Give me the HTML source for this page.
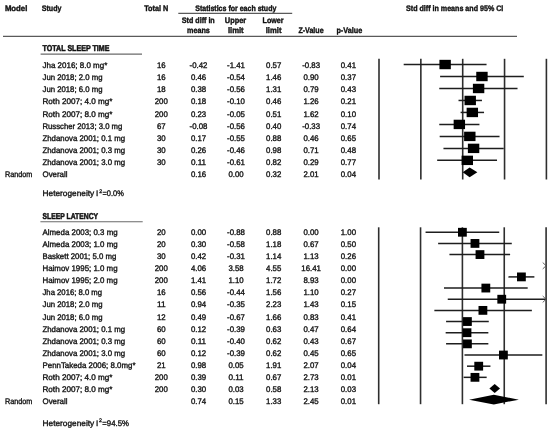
<!DOCTYPE html>
<html><head><meta charset="utf-8"><title>Forest plot</title>
<style>
html,body{margin:0;padding:0;background:#fff;}
body{width:550px;height:430px;overflow:hidden;}
svg{display:block;}
text{text-rendering:geometricPrecision;font-family:"Liberation Sans",Arial,sans-serif;fill:#111;stroke:#111;stroke-width:0.35px;}
text[font-weight=bold]{stroke-width:0.38px;}
</style></head><body>
<svg width="550" height="430" viewBox="0 0 550 430">
<rect width="550" height="430" fill="#fff"/>
<text x="4.90" y="10.50" text-anchor="start" font-size="8.00" font-weight="bold" textLength="22.39" lengthAdjust="spacingAndGlyphs">Model</text>
<text x="41.80" y="10.50" text-anchor="start" font-size="8.00" font-weight="bold" textLength="19.64" lengthAdjust="spacingAndGlyphs">Study</text>
<text x="144.20" y="10.50" text-anchor="start" font-size="8.00" font-weight="bold" textLength="24.13" lengthAdjust="spacingAndGlyphs">Total N</text>
<text x="235.80" y="10.50" text-anchor="middle" font-size="8.00" font-weight="bold" textLength="81.14" lengthAdjust="spacingAndGlyphs">Statistics for each study</text>
<text x="454.70" y="10.50" text-anchor="middle" font-size="8.00" font-weight="bold" textLength="97.26" lengthAdjust="spacingAndGlyphs">Std diff in means and 95% CI</text>
<text x="198.30" y="22.90" text-anchor="middle" font-size="8.00" font-weight="bold" textLength="32.88" lengthAdjust="spacingAndGlyphs">Std diff in</text>
<text x="235.50" y="22.90" text-anchor="middle" font-size="8.00" font-weight="bold" textLength="21.46" lengthAdjust="spacingAndGlyphs">Upper</text>
<text x="273.10" y="22.90" text-anchor="middle" font-size="8.00" font-weight="bold" textLength="21.07" lengthAdjust="spacingAndGlyphs">Lower</text>
<text x="198.40" y="33.30" text-anchor="middle" font-size="8.00" font-weight="bold" textLength="22.79" lengthAdjust="spacingAndGlyphs">means</text>
<text x="235.80" y="33.30" text-anchor="middle" font-size="8.00" font-weight="bold" textLength="15.75" lengthAdjust="spacingAndGlyphs">limit</text>
<text x="273.60" y="33.30" text-anchor="middle" font-size="8.00" font-weight="bold" textLength="15.75" lengthAdjust="spacingAndGlyphs">limit</text>
<text x="311.00" y="33.30" text-anchor="middle" font-size="8.00" font-weight="bold" textLength="25.19" lengthAdjust="spacingAndGlyphs">Z-Value</text>
<text x="349.30" y="33.30" text-anchor="middle" font-size="8.00" font-weight="bold" textLength="25.82" lengthAdjust="spacingAndGlyphs">p-Value</text>
<text x="42.60" y="50.80" text-anchor="start" font-size="8.53" font-weight="bold" style="stroke-width:0.5px" textLength="66.79" lengthAdjust="spacingAndGlyphs">TOTAL SLEEP TIME</text>
<text x="42.60" y="219.10" text-anchor="start" font-size="8.53" font-weight="bold" style="stroke-width:0.5px" textLength="55.50" lengthAdjust="spacingAndGlyphs">SLEEP LATENCY</text>
<text x="42.50" y="68.30" text-anchor="start" font-size="8.10" textLength="64.81" lengthAdjust="spacingAndGlyphs">Jha 2016; 8.0 mg*</text>
<text x="161.30" y="68.30" text-anchor="middle" font-size="8.10" textLength="8.72" lengthAdjust="spacingAndGlyphs">16</text>
<text x="198.50" y="68.30" text-anchor="middle" font-size="8.10" textLength="17.88" lengthAdjust="spacingAndGlyphs">-0.42</text>
<text x="236.00" y="68.30" text-anchor="middle" font-size="8.10" textLength="17.88" lengthAdjust="spacingAndGlyphs">-1.41</text>
<text x="273.70" y="68.30" text-anchor="middle" font-size="8.10" textLength="15.25" lengthAdjust="spacingAndGlyphs">0.57</text>
<text x="311.10" y="68.30" text-anchor="middle" font-size="8.10" textLength="17.88" lengthAdjust="spacingAndGlyphs">-0.83</text>
<text x="348.40" y="68.30" text-anchor="middle" font-size="8.10" textLength="15.25" lengthAdjust="spacingAndGlyphs">0.41</text>
<text x="42.50" y="80.35" text-anchor="start" font-size="8.10" textLength="59.97" lengthAdjust="spacingAndGlyphs">Jun 2018; 2.0 mg</text>
<text x="161.30" y="80.35" text-anchor="middle" font-size="8.10" textLength="8.72" lengthAdjust="spacingAndGlyphs">16</text>
<text x="198.50" y="80.35" text-anchor="middle" font-size="8.10" textLength="15.25" lengthAdjust="spacingAndGlyphs">0.46</text>
<text x="236.00" y="80.35" text-anchor="middle" font-size="8.10" textLength="17.88" lengthAdjust="spacingAndGlyphs">-0.54</text>
<text x="273.70" y="80.35" text-anchor="middle" font-size="8.10" textLength="15.25" lengthAdjust="spacingAndGlyphs">1.46</text>
<text x="311.10" y="80.35" text-anchor="middle" font-size="8.10" textLength="15.25" lengthAdjust="spacingAndGlyphs">0.90</text>
<text x="348.40" y="80.35" text-anchor="middle" font-size="8.10" textLength="15.25" lengthAdjust="spacingAndGlyphs">0.37</text>
<text x="42.50" y="92.40" text-anchor="start" font-size="8.10" textLength="59.97" lengthAdjust="spacingAndGlyphs">Jun 2018; 6.0 mg</text>
<text x="161.30" y="92.40" text-anchor="middle" font-size="8.10" textLength="8.72" lengthAdjust="spacingAndGlyphs">18</text>
<text x="198.50" y="92.40" text-anchor="middle" font-size="8.10" textLength="15.25" lengthAdjust="spacingAndGlyphs">0.38</text>
<text x="236.00" y="92.40" text-anchor="middle" font-size="8.10" textLength="17.88" lengthAdjust="spacingAndGlyphs">-0.56</text>
<text x="273.70" y="92.40" text-anchor="middle" font-size="8.10" textLength="15.25" lengthAdjust="spacingAndGlyphs">1.31</text>
<text x="311.10" y="92.40" text-anchor="middle" font-size="8.10" textLength="15.25" lengthAdjust="spacingAndGlyphs">0.79</text>
<text x="348.40" y="92.40" text-anchor="middle" font-size="8.10" textLength="15.25" lengthAdjust="spacingAndGlyphs">0.43</text>
<text x="42.50" y="104.45" text-anchor="start" font-size="8.10" textLength="69.93" lengthAdjust="spacingAndGlyphs">Roth 2007; 4.0 mg*</text>
<text x="161.30" y="104.45" text-anchor="middle" font-size="8.10" textLength="13.08" lengthAdjust="spacingAndGlyphs">200</text>
<text x="198.50" y="104.45" text-anchor="middle" font-size="8.10" textLength="15.25" lengthAdjust="spacingAndGlyphs">0.18</text>
<text x="236.00" y="104.45" text-anchor="middle" font-size="8.10" textLength="17.88" lengthAdjust="spacingAndGlyphs">-0.10</text>
<text x="273.70" y="104.45" text-anchor="middle" font-size="8.10" textLength="15.25" lengthAdjust="spacingAndGlyphs">0.46</text>
<text x="311.10" y="104.45" text-anchor="middle" font-size="8.10" textLength="15.25" lengthAdjust="spacingAndGlyphs">1.26</text>
<text x="348.40" y="104.45" text-anchor="middle" font-size="8.10" textLength="15.25" lengthAdjust="spacingAndGlyphs">0.21</text>
<text x="42.50" y="116.50" text-anchor="start" font-size="8.10" textLength="69.93" lengthAdjust="spacingAndGlyphs">Roth 2007; 8.0 mg*</text>
<text x="161.30" y="116.50" text-anchor="middle" font-size="8.10" textLength="13.08" lengthAdjust="spacingAndGlyphs">200</text>
<text x="198.50" y="116.50" text-anchor="middle" font-size="8.10" textLength="15.25" lengthAdjust="spacingAndGlyphs">0.23</text>
<text x="236.00" y="116.50" text-anchor="middle" font-size="8.10" textLength="17.88" lengthAdjust="spacingAndGlyphs">-0.05</text>
<text x="273.70" y="116.50" text-anchor="middle" font-size="8.10" textLength="15.25" lengthAdjust="spacingAndGlyphs">0.51</text>
<text x="311.10" y="116.50" text-anchor="middle" font-size="8.10" textLength="15.25" lengthAdjust="spacingAndGlyphs">1.62</text>
<text x="348.40" y="116.50" text-anchor="middle" font-size="8.10" textLength="15.25" lengthAdjust="spacingAndGlyphs">0.10</text>
<text x="42.50" y="128.55" text-anchor="start" font-size="8.10" textLength="79.81" lengthAdjust="spacingAndGlyphs">Russcher 2013; 3.0 mg</text>
<text x="161.30" y="128.55" text-anchor="middle" font-size="8.10" textLength="8.72" lengthAdjust="spacingAndGlyphs">67</text>
<text x="198.50" y="128.55" text-anchor="middle" font-size="8.10" textLength="17.88" lengthAdjust="spacingAndGlyphs">-0.08</text>
<text x="236.00" y="128.55" text-anchor="middle" font-size="8.10" textLength="17.88" lengthAdjust="spacingAndGlyphs">-0.56</text>
<text x="273.70" y="128.55" text-anchor="middle" font-size="8.10" textLength="15.25" lengthAdjust="spacingAndGlyphs">0.40</text>
<text x="311.10" y="128.55" text-anchor="middle" font-size="8.10" textLength="17.88" lengthAdjust="spacingAndGlyphs">-0.33</text>
<text x="348.40" y="128.55" text-anchor="middle" font-size="8.10" textLength="15.25" lengthAdjust="spacingAndGlyphs">0.74</text>
<text x="42.50" y="140.60" text-anchor="start" font-size="8.10" textLength="82.58" lengthAdjust="spacingAndGlyphs">Zhdanova 2001; 0.1 mg</text>
<text x="161.30" y="140.60" text-anchor="middle" font-size="8.10" textLength="8.72" lengthAdjust="spacingAndGlyphs">30</text>
<text x="198.50" y="140.60" text-anchor="middle" font-size="8.10" textLength="15.25" lengthAdjust="spacingAndGlyphs">0.17</text>
<text x="236.00" y="140.60" text-anchor="middle" font-size="8.10" textLength="17.88" lengthAdjust="spacingAndGlyphs">-0.55</text>
<text x="273.70" y="140.60" text-anchor="middle" font-size="8.10" textLength="15.25" lengthAdjust="spacingAndGlyphs">0.88</text>
<text x="311.10" y="140.60" text-anchor="middle" font-size="8.10" textLength="15.25" lengthAdjust="spacingAndGlyphs">0.46</text>
<text x="348.40" y="140.60" text-anchor="middle" font-size="8.10" textLength="15.25" lengthAdjust="spacingAndGlyphs">0.65</text>
<text x="42.50" y="152.65" text-anchor="start" font-size="8.10" textLength="82.58" lengthAdjust="spacingAndGlyphs">Zhdanova 2001; 0.3 mg</text>
<text x="161.30" y="152.65" text-anchor="middle" font-size="8.10" textLength="8.72" lengthAdjust="spacingAndGlyphs">30</text>
<text x="198.50" y="152.65" text-anchor="middle" font-size="8.10" textLength="15.25" lengthAdjust="spacingAndGlyphs">0.26</text>
<text x="236.00" y="152.65" text-anchor="middle" font-size="8.10" textLength="17.88" lengthAdjust="spacingAndGlyphs">-0.46</text>
<text x="273.70" y="152.65" text-anchor="middle" font-size="8.10" textLength="15.25" lengthAdjust="spacingAndGlyphs">0.98</text>
<text x="311.10" y="152.65" text-anchor="middle" font-size="8.10" textLength="15.25" lengthAdjust="spacingAndGlyphs">0.71</text>
<text x="348.40" y="152.65" text-anchor="middle" font-size="8.10" textLength="15.25" lengthAdjust="spacingAndGlyphs">0.48</text>
<text x="42.50" y="164.70" text-anchor="start" font-size="8.10" textLength="82.58" lengthAdjust="spacingAndGlyphs">Zhdanova 2001; 3.0 mg</text>
<text x="161.30" y="164.70" text-anchor="middle" font-size="8.10" textLength="8.72" lengthAdjust="spacingAndGlyphs">30</text>
<text x="198.50" y="164.70" text-anchor="middle" font-size="8.10" textLength="15.25" lengthAdjust="spacingAndGlyphs">0.11</text>
<text x="236.00" y="164.70" text-anchor="middle" font-size="8.10" textLength="17.88" lengthAdjust="spacingAndGlyphs">-0.61</text>
<text x="273.70" y="164.70" text-anchor="middle" font-size="8.10" textLength="15.25" lengthAdjust="spacingAndGlyphs">0.82</text>
<text x="311.10" y="164.70" text-anchor="middle" font-size="8.10" textLength="15.25" lengthAdjust="spacingAndGlyphs">0.29</text>
<text x="348.40" y="164.70" text-anchor="middle" font-size="8.10" textLength="15.25" lengthAdjust="spacingAndGlyphs">0.77</text>
<text x="4.90" y="176.75" text-anchor="start" font-size="8.10" textLength="27.40" lengthAdjust="spacingAndGlyphs">Random</text>
<text x="42.50" y="176.75" text-anchor="start" font-size="8.10" textLength="25.00" lengthAdjust="spacingAndGlyphs">Overall</text>
<text x="198.50" y="176.75" text-anchor="middle" font-size="8.10" textLength="15.25" lengthAdjust="spacingAndGlyphs">0.16</text>
<text x="236.00" y="176.75" text-anchor="middle" font-size="8.10" textLength="15.25" lengthAdjust="spacingAndGlyphs">0.00</text>
<text x="273.70" y="176.75" text-anchor="middle" font-size="8.10" textLength="15.25" lengthAdjust="spacingAndGlyphs">0.32</text>
<text x="311.10" y="176.75" text-anchor="middle" font-size="8.10" textLength="15.25" lengthAdjust="spacingAndGlyphs">2.01</text>
<text x="348.40" y="176.75" text-anchor="middle" font-size="8.10" textLength="15.25" lengthAdjust="spacingAndGlyphs">0.04</text>
<text x="42.50" y="234.85" text-anchor="start" font-size="8.10" textLength="75.14" lengthAdjust="spacingAndGlyphs">Almeda 2003; 0.3 mg</text>
<text x="161.30" y="234.85" text-anchor="middle" font-size="8.10" textLength="8.72" lengthAdjust="spacingAndGlyphs">20</text>
<text x="198.50" y="234.85" text-anchor="middle" font-size="8.10" textLength="15.25" lengthAdjust="spacingAndGlyphs">0.00</text>
<text x="236.00" y="234.85" text-anchor="middle" font-size="8.10" textLength="17.88" lengthAdjust="spacingAndGlyphs">-0.88</text>
<text x="273.70" y="234.85" text-anchor="middle" font-size="8.10" textLength="15.25" lengthAdjust="spacingAndGlyphs">0.88</text>
<text x="311.10" y="234.85" text-anchor="middle" font-size="8.10" textLength="15.25" lengthAdjust="spacingAndGlyphs">0.00</text>
<text x="348.40" y="234.85" text-anchor="middle" font-size="8.10" textLength="15.25" lengthAdjust="spacingAndGlyphs">1.00</text>
<text x="42.50" y="246.95" text-anchor="start" font-size="8.10" textLength="75.14" lengthAdjust="spacingAndGlyphs">Almeda 2003; 1.0 mg</text>
<text x="161.30" y="246.95" text-anchor="middle" font-size="8.10" textLength="8.72" lengthAdjust="spacingAndGlyphs">20</text>
<text x="198.50" y="246.95" text-anchor="middle" font-size="8.10" textLength="15.25" lengthAdjust="spacingAndGlyphs">0.30</text>
<text x="236.00" y="246.95" text-anchor="middle" font-size="8.10" textLength="17.88" lengthAdjust="spacingAndGlyphs">-0.58</text>
<text x="273.70" y="246.95" text-anchor="middle" font-size="8.10" textLength="15.25" lengthAdjust="spacingAndGlyphs">1.18</text>
<text x="311.10" y="246.95" text-anchor="middle" font-size="8.10" textLength="15.25" lengthAdjust="spacingAndGlyphs">0.67</text>
<text x="348.40" y="246.95" text-anchor="middle" font-size="8.10" textLength="15.25" lengthAdjust="spacingAndGlyphs">0.50</text>
<text x="42.50" y="259.05" text-anchor="start" font-size="8.10" textLength="73.86" lengthAdjust="spacingAndGlyphs">Baskett 2001; 5.0 mg</text>
<text x="161.30" y="259.05" text-anchor="middle" font-size="8.10" textLength="8.72" lengthAdjust="spacingAndGlyphs">30</text>
<text x="198.50" y="259.05" text-anchor="middle" font-size="8.10" textLength="15.25" lengthAdjust="spacingAndGlyphs">0.42</text>
<text x="236.00" y="259.05" text-anchor="middle" font-size="8.10" textLength="17.88" lengthAdjust="spacingAndGlyphs">-0.31</text>
<text x="273.70" y="259.05" text-anchor="middle" font-size="8.10" textLength="15.25" lengthAdjust="spacingAndGlyphs">1.14</text>
<text x="311.10" y="259.05" text-anchor="middle" font-size="8.10" textLength="15.25" lengthAdjust="spacingAndGlyphs">1.13</text>
<text x="348.40" y="259.05" text-anchor="middle" font-size="8.10" textLength="15.25" lengthAdjust="spacingAndGlyphs">0.26</text>
<text x="42.50" y="271.15" text-anchor="start" font-size="8.10" textLength="75.10" lengthAdjust="spacingAndGlyphs">Haimov 1995; 1.0 mg</text>
<text x="161.30" y="271.15" text-anchor="middle" font-size="8.10" textLength="13.08" lengthAdjust="spacingAndGlyphs">200</text>
<text x="198.50" y="271.15" text-anchor="middle" font-size="8.10" textLength="15.25" lengthAdjust="spacingAndGlyphs">4.06</text>
<text x="236.00" y="271.15" text-anchor="middle" font-size="8.10" textLength="15.25" lengthAdjust="spacingAndGlyphs">3.58</text>
<text x="273.70" y="271.15" text-anchor="middle" font-size="8.10" textLength="15.25" lengthAdjust="spacingAndGlyphs">4.55</text>
<text x="311.10" y="271.15" text-anchor="middle" font-size="8.10" textLength="19.61" lengthAdjust="spacingAndGlyphs">16.41</text>
<text x="348.40" y="271.15" text-anchor="middle" font-size="8.10" textLength="15.25" lengthAdjust="spacingAndGlyphs">0.00</text>
<text x="42.50" y="283.25" text-anchor="start" font-size="8.10" textLength="75.10" lengthAdjust="spacingAndGlyphs">Haimov 1995; 2.0 mg</text>
<text x="161.30" y="283.25" text-anchor="middle" font-size="8.10" textLength="13.08" lengthAdjust="spacingAndGlyphs">200</text>
<text x="198.50" y="283.25" text-anchor="middle" font-size="8.10" textLength="15.25" lengthAdjust="spacingAndGlyphs">1.41</text>
<text x="236.00" y="283.25" text-anchor="middle" font-size="8.10" textLength="15.25" lengthAdjust="spacingAndGlyphs">1.10</text>
<text x="273.70" y="283.25" text-anchor="middle" font-size="8.10" textLength="15.25" lengthAdjust="spacingAndGlyphs">1.72</text>
<text x="311.10" y="283.25" text-anchor="middle" font-size="8.10" textLength="15.25" lengthAdjust="spacingAndGlyphs">8.93</text>
<text x="348.40" y="283.25" text-anchor="middle" font-size="8.10" textLength="15.25" lengthAdjust="spacingAndGlyphs">0.00</text>
<text x="42.50" y="295.35" text-anchor="start" font-size="8.10" textLength="59.57" lengthAdjust="spacingAndGlyphs">Jha 2016; 8.0 mg</text>
<text x="161.30" y="295.35" text-anchor="middle" font-size="8.10" textLength="8.72" lengthAdjust="spacingAndGlyphs">16</text>
<text x="198.50" y="295.35" text-anchor="middle" font-size="8.10" textLength="15.25" lengthAdjust="spacingAndGlyphs">0.56</text>
<text x="236.00" y="295.35" text-anchor="middle" font-size="8.10" textLength="17.88" lengthAdjust="spacingAndGlyphs">-0.44</text>
<text x="273.70" y="295.35" text-anchor="middle" font-size="8.10" textLength="15.25" lengthAdjust="spacingAndGlyphs">1.56</text>
<text x="311.10" y="295.35" text-anchor="middle" font-size="8.10" textLength="15.25" lengthAdjust="spacingAndGlyphs">1.10</text>
<text x="348.40" y="295.35" text-anchor="middle" font-size="8.10" textLength="15.25" lengthAdjust="spacingAndGlyphs">0.27</text>
<text x="42.50" y="307.45" text-anchor="start" font-size="8.10" textLength="59.97" lengthAdjust="spacingAndGlyphs">Jun 2018; 2.0 mg</text>
<text x="161.30" y="307.45" text-anchor="middle" font-size="8.10" textLength="8.72" lengthAdjust="spacingAndGlyphs">11</text>
<text x="198.50" y="307.45" text-anchor="middle" font-size="8.10" textLength="15.25" lengthAdjust="spacingAndGlyphs">0.94</text>
<text x="236.00" y="307.45" text-anchor="middle" font-size="8.10" textLength="17.88" lengthAdjust="spacingAndGlyphs">-0.35</text>
<text x="273.70" y="307.45" text-anchor="middle" font-size="8.10" textLength="15.25" lengthAdjust="spacingAndGlyphs">2.23</text>
<text x="311.10" y="307.45" text-anchor="middle" font-size="8.10" textLength="15.25" lengthAdjust="spacingAndGlyphs">1.43</text>
<text x="348.40" y="307.45" text-anchor="middle" font-size="8.10" textLength="15.25" lengthAdjust="spacingAndGlyphs">0.15</text>
<text x="42.50" y="319.55" text-anchor="start" font-size="8.10" textLength="59.97" lengthAdjust="spacingAndGlyphs">Jun 2018; 6.0 mg</text>
<text x="161.30" y="319.55" text-anchor="middle" font-size="8.10" textLength="8.72" lengthAdjust="spacingAndGlyphs">12</text>
<text x="198.50" y="319.55" text-anchor="middle" font-size="8.10" textLength="15.25" lengthAdjust="spacingAndGlyphs">0.49</text>
<text x="236.00" y="319.55" text-anchor="middle" font-size="8.10" textLength="17.88" lengthAdjust="spacingAndGlyphs">-0.67</text>
<text x="273.70" y="319.55" text-anchor="middle" font-size="8.10" textLength="15.25" lengthAdjust="spacingAndGlyphs">1.66</text>
<text x="311.10" y="319.55" text-anchor="middle" font-size="8.10" textLength="15.25" lengthAdjust="spacingAndGlyphs">0.83</text>
<text x="348.40" y="319.55" text-anchor="middle" font-size="8.10" textLength="15.25" lengthAdjust="spacingAndGlyphs">0.41</text>
<text x="42.50" y="331.65" text-anchor="start" font-size="8.10" textLength="82.58" lengthAdjust="spacingAndGlyphs">Zhdanova 2001; 0.1 mg</text>
<text x="161.30" y="331.65" text-anchor="middle" font-size="8.10" textLength="8.72" lengthAdjust="spacingAndGlyphs">60</text>
<text x="198.50" y="331.65" text-anchor="middle" font-size="8.10" textLength="15.25" lengthAdjust="spacingAndGlyphs">0.12</text>
<text x="236.00" y="331.65" text-anchor="middle" font-size="8.10" textLength="17.88" lengthAdjust="spacingAndGlyphs">-0.39</text>
<text x="273.70" y="331.65" text-anchor="middle" font-size="8.10" textLength="15.25" lengthAdjust="spacingAndGlyphs">0.63</text>
<text x="311.10" y="331.65" text-anchor="middle" font-size="8.10" textLength="15.25" lengthAdjust="spacingAndGlyphs">0.47</text>
<text x="348.40" y="331.65" text-anchor="middle" font-size="8.10" textLength="15.25" lengthAdjust="spacingAndGlyphs">0.64</text>
<text x="42.50" y="343.75" text-anchor="start" font-size="8.10" textLength="82.58" lengthAdjust="spacingAndGlyphs">Zhdanova 2001; 0.3 mg</text>
<text x="161.30" y="343.75" text-anchor="middle" font-size="8.10" textLength="8.72" lengthAdjust="spacingAndGlyphs">60</text>
<text x="198.50" y="343.75" text-anchor="middle" font-size="8.10" textLength="15.25" lengthAdjust="spacingAndGlyphs">0.11</text>
<text x="236.00" y="343.75" text-anchor="middle" font-size="8.10" textLength="17.88" lengthAdjust="spacingAndGlyphs">-0.40</text>
<text x="273.70" y="343.75" text-anchor="middle" font-size="8.10" textLength="15.25" lengthAdjust="spacingAndGlyphs">0.62</text>
<text x="311.10" y="343.75" text-anchor="middle" font-size="8.10" textLength="15.25" lengthAdjust="spacingAndGlyphs">0.43</text>
<text x="348.40" y="343.75" text-anchor="middle" font-size="8.10" textLength="15.25" lengthAdjust="spacingAndGlyphs">0.67</text>
<text x="42.50" y="355.85" text-anchor="start" font-size="8.10" textLength="82.58" lengthAdjust="spacingAndGlyphs">Zhdanova 2001; 3.0 mg</text>
<text x="161.30" y="355.85" text-anchor="middle" font-size="8.10" textLength="8.72" lengthAdjust="spacingAndGlyphs">60</text>
<text x="198.50" y="355.85" text-anchor="middle" font-size="8.10" textLength="15.25" lengthAdjust="spacingAndGlyphs">0.12</text>
<text x="236.00" y="355.85" text-anchor="middle" font-size="8.10" textLength="17.88" lengthAdjust="spacingAndGlyphs">-0.39</text>
<text x="273.70" y="355.85" text-anchor="middle" font-size="8.10" textLength="15.25" lengthAdjust="spacingAndGlyphs">0.62</text>
<text x="311.10" y="355.85" text-anchor="middle" font-size="8.10" textLength="15.25" lengthAdjust="spacingAndGlyphs">0.45</text>
<text x="348.40" y="355.85" text-anchor="middle" font-size="8.10" textLength="15.25" lengthAdjust="spacingAndGlyphs">0.65</text>
<text x="42.50" y="367.95" text-anchor="start" font-size="8.10" textLength="93.00" lengthAdjust="spacingAndGlyphs">PennTakeda 2006; 8.0mg*</text>
<text x="161.30" y="367.95" text-anchor="middle" font-size="8.10" textLength="8.72" lengthAdjust="spacingAndGlyphs">21</text>
<text x="198.50" y="367.95" text-anchor="middle" font-size="8.10" textLength="15.25" lengthAdjust="spacingAndGlyphs">0.98</text>
<text x="236.00" y="367.95" text-anchor="middle" font-size="8.10" textLength="15.25" lengthAdjust="spacingAndGlyphs">0.05</text>
<text x="273.70" y="367.95" text-anchor="middle" font-size="8.10" textLength="15.25" lengthAdjust="spacingAndGlyphs">1.91</text>
<text x="311.10" y="367.95" text-anchor="middle" font-size="8.10" textLength="15.25" lengthAdjust="spacingAndGlyphs">2.07</text>
<text x="348.40" y="367.95" text-anchor="middle" font-size="8.10" textLength="15.25" lengthAdjust="spacingAndGlyphs">0.04</text>
<text x="42.50" y="380.05" text-anchor="start" font-size="8.10" textLength="69.93" lengthAdjust="spacingAndGlyphs">Roth 2007; 4.0 mg*</text>
<text x="161.30" y="380.05" text-anchor="middle" font-size="8.10" textLength="13.08" lengthAdjust="spacingAndGlyphs">200</text>
<text x="198.50" y="380.05" text-anchor="middle" font-size="8.10" textLength="15.25" lengthAdjust="spacingAndGlyphs">0.39</text>
<text x="236.00" y="380.05" text-anchor="middle" font-size="8.10" textLength="15.25" lengthAdjust="spacingAndGlyphs">0.11</text>
<text x="273.70" y="380.05" text-anchor="middle" font-size="8.10" textLength="15.25" lengthAdjust="spacingAndGlyphs">0.67</text>
<text x="311.10" y="380.05" text-anchor="middle" font-size="8.10" textLength="15.25" lengthAdjust="spacingAndGlyphs">2.73</text>
<text x="348.40" y="380.05" text-anchor="middle" font-size="8.10" textLength="15.25" lengthAdjust="spacingAndGlyphs">0.01</text>
<text x="42.50" y="392.15" text-anchor="start" font-size="8.10" textLength="69.93" lengthAdjust="spacingAndGlyphs">Roth 2007; 8.0 mg*</text>
<text x="161.30" y="392.15" text-anchor="middle" font-size="8.10" textLength="13.08" lengthAdjust="spacingAndGlyphs">200</text>
<text x="198.50" y="392.15" text-anchor="middle" font-size="8.10" textLength="15.25" lengthAdjust="spacingAndGlyphs">0.30</text>
<text x="236.00" y="392.15" text-anchor="middle" font-size="8.10" textLength="15.25" lengthAdjust="spacingAndGlyphs">0.03</text>
<text x="273.70" y="392.15" text-anchor="middle" font-size="8.10" textLength="15.25" lengthAdjust="spacingAndGlyphs">0.58</text>
<text x="311.10" y="392.15" text-anchor="middle" font-size="8.10" textLength="15.25" lengthAdjust="spacingAndGlyphs">2.13</text>
<text x="348.40" y="392.15" text-anchor="middle" font-size="8.10" textLength="15.25" lengthAdjust="spacingAndGlyphs">0.03</text>
<text x="4.90" y="404.25" text-anchor="start" font-size="8.10" textLength="27.40" lengthAdjust="spacingAndGlyphs">Random</text>
<text x="42.50" y="404.25" text-anchor="start" font-size="8.10" textLength="25.00" lengthAdjust="spacingAndGlyphs">Overall</text>
<text x="198.50" y="404.25" text-anchor="middle" font-size="8.10" textLength="15.25" lengthAdjust="spacingAndGlyphs">0.74</text>
<text x="236.00" y="404.25" text-anchor="middle" font-size="8.10" textLength="15.25" lengthAdjust="spacingAndGlyphs">0.15</text>
<text x="273.70" y="404.25" text-anchor="middle" font-size="8.10" textLength="15.25" lengthAdjust="spacingAndGlyphs">1.33</text>
<text x="311.10" y="404.25" text-anchor="middle" font-size="8.10" textLength="15.25" lengthAdjust="spacingAndGlyphs">2.45</text>
<text x="348.40" y="404.25" text-anchor="middle" font-size="8.10" textLength="15.25" lengthAdjust="spacingAndGlyphs">0.01</text>
<text x="42.6" y="196.2" font-size="8.1" textLength="51.6" lengthAdjust="spacingAndGlyphs">Heterogeneity</text>
<text x="96.00" y="196.2" font-size="8.1">I</text>
<text x="99.20" y="192.60" font-size="5.2">2</text>
<text x="102.50" y="196.2" font-size="8.1" textLength="21.3" lengthAdjust="spacingAndGlyphs">=0.0%</text>
<text x="42.6" y="425.8" font-size="8.1" textLength="51.6" lengthAdjust="spacingAndGlyphs">Heterogeneity</text>
<text x="95.90" y="425.8" font-size="8.1">I</text>
<text x="99.10" y="422.20" font-size="5.2">2</text>
<text x="102.30" y="425.8" font-size="8.1" textLength="26.6" lengthAdjust="spacingAndGlyphs">=94.5%</text>
<line x1="3" y1="36.4" x2="517" y2="36.4" stroke="#5a5a5a" stroke-width="1.1"/>
<line x1="178.3" y1="13.4" x2="292.2" y2="13.4" stroke="#5a5a5a" stroke-width="1.1"/>
<line x1="40.6" y1="54.1" x2="142" y2="54.1" stroke="#6a6a6a" stroke-width="1.1"/>
<line x1="40.4" y1="221.8" x2="142.7" y2="221.8" stroke="#6a6a6a" stroke-width="1.1"/>
<line x1="379.00" y1="58.8" x2="379.00" y2="179.5" stroke="#2e2e2e" stroke-width="1.6"/>
<line x1="378.70" y1="227.3" x2="378.70" y2="404.2" stroke="#2e2e2e" stroke-width="1.6"/>
<line x1="420.85" y1="58.8" x2="420.85" y2="179.5" stroke="#2e2e2e" stroke-width="1.6"/>
<line x1="420.55" y1="227.3" x2="420.55" y2="404.2" stroke="#2e2e2e" stroke-width="1.6"/>
<line x1="462.70" y1="58.8" x2="462.70" y2="179.5" stroke="#2e2e2e" stroke-width="1.6"/>
<line x1="462.40" y1="227.3" x2="462.40" y2="404.2" stroke="#2e2e2e" stroke-width="1.6"/>
<line x1="504.55" y1="58.8" x2="504.55" y2="179.5" stroke="#2e2e2e" stroke-width="1.6"/>
<line x1="504.25" y1="227.3" x2="504.25" y2="404.2" stroke="#2e2e2e" stroke-width="1.6"/>
<line x1="546.40" y1="58.8" x2="546.40" y2="179.5" stroke="#2e2e2e" stroke-width="1.6"/>
<line x1="546.10" y1="227.3" x2="546.10" y2="404.2" stroke="#2e2e2e" stroke-width="1.6"/>
<line x1="403.69" y1="64.52" x2="486.55" y2="64.52" stroke="#1e1e1e" stroke-width="1.5"/>
<rect x="439.42" y="59.82" width="11.4" height="9.4" fill="#000"/>
<line x1="440.10" y1="76.50" x2="523.80" y2="76.50" stroke="#1e1e1e" stroke-width="1.5"/>
<rect x="476.25" y="71.80" width="11.4" height="9.4" fill="#000"/>
<line x1="439.26" y1="88.48" x2="517.52" y2="88.48" stroke="#1e1e1e" stroke-width="1.5"/>
<rect x="472.90" y="83.78" width="11.4" height="9.4" fill="#000"/>
<line x1="458.51" y1="100.46" x2="481.95" y2="100.46" stroke="#1e1e1e" stroke-width="1.5"/>
<rect x="464.53" y="95.76" width="11.4" height="9.4" fill="#000"/>
<line x1="460.61" y1="112.44" x2="484.04" y2="112.44" stroke="#1e1e1e" stroke-width="1.5"/>
<rect x="466.63" y="107.74" width="11.4" height="9.4" fill="#000"/>
<line x1="439.26" y1="124.42" x2="479.44" y2="124.42" stroke="#1e1e1e" stroke-width="1.5"/>
<rect x="453.65" y="119.72" width="11.4" height="9.4" fill="#000"/>
<line x1="439.68" y1="136.40" x2="499.53" y2="136.40" stroke="#1e1e1e" stroke-width="1.5"/>
<rect x="464.11" y="131.70" width="11.4" height="9.4" fill="#000"/>
<line x1="443.45" y1="148.38" x2="503.71" y2="148.38" stroke="#1e1e1e" stroke-width="1.5"/>
<rect x="467.88" y="143.68" width="11.4" height="9.4" fill="#000"/>
<line x1="437.17" y1="160.36" x2="497.02" y2="160.36" stroke="#1e1e1e" stroke-width="1.5"/>
<rect x="461.60" y="155.66" width="11.4" height="9.4" fill="#000"/>
<polygon points="462.70,172.34 469.61,167.54 477.35,172.34 469.61,177.14" fill="#000"/>
<line x1="425.57" y1="232.26" x2="499.23" y2="232.26" stroke="#1e1e1e" stroke-width="1.5"/>
<rect x="458.00" y="227.86" width="8.8" height="8.8" fill="#000"/>
<line x1="438.13" y1="243.42" x2="511.78" y2="243.42" stroke="#1e1e1e" stroke-width="1.5"/>
<rect x="470.56" y="239.02" width="8.8" height="8.8" fill="#000"/>
<line x1="449.43" y1="254.58" x2="510.11" y2="254.58" stroke="#1e1e1e" stroke-width="1.5"/>
<rect x="475.58" y="250.18" width="8.8" height="8.8" fill="#000"/>
<polyline points="542.70,262.54 546.10,265.74 542.70,268.94" fill="none" stroke="#555" stroke-width="0.9"/>
<line x1="508.44" y1="276.90" x2="534.38" y2="276.90" stroke="#1e1e1e" stroke-width="1.5"/>
<rect x="517.01" y="272.50" width="8.8" height="8.8" fill="#000"/>
<line x1="443.99" y1="288.06" x2="527.69" y2="288.06" stroke="#1e1e1e" stroke-width="1.5"/>
<rect x="481.44" y="283.66" width="8.8" height="8.8" fill="#000"/>
<line x1="447.75" y1="299.22" x2="546.10" y2="299.22" stroke="#1e1e1e" stroke-width="1.5"/>
<polyline points="542.70,296.02 546.10,299.22 542.70,302.42" fill="none" stroke="#555" stroke-width="0.9"/>
<rect x="497.34" y="294.82" width="8.8" height="8.8" fill="#000"/>
<line x1="434.36" y1="310.38" x2="531.87" y2="310.38" stroke="#1e1e1e" stroke-width="1.5"/>
<rect x="478.51" y="305.98" width="8.8" height="8.8" fill="#000"/>
<line x1="446.08" y1="321.54" x2="488.77" y2="321.54" stroke="#1e1e1e" stroke-width="1.5"/>
<rect x="463.02" y="317.14" width="8.8" height="8.8" fill="#000"/>
<line x1="445.66" y1="332.70" x2="488.35" y2="332.70" stroke="#1e1e1e" stroke-width="1.5"/>
<rect x="462.60" y="328.30" width="8.8" height="8.8" fill="#000"/>
<line x1="446.08" y1="343.86" x2="488.35" y2="343.86" stroke="#1e1e1e" stroke-width="1.5"/>
<rect x="463.02" y="339.46" width="8.8" height="8.8" fill="#000"/>
<line x1="464.49" y1="355.02" x2="542.33" y2="355.02" stroke="#1e1e1e" stroke-width="1.5"/>
<rect x="499.01" y="350.62" width="8.8" height="8.8" fill="#000"/>
<line x1="467.00" y1="366.18" x2="490.44" y2="366.18" stroke="#1e1e1e" stroke-width="1.5"/>
<rect x="474.32" y="361.78" width="8.8" height="8.8" fill="#000"/>
<line x1="463.66" y1="377.34" x2="486.67" y2="377.34" stroke="#1e1e1e" stroke-width="1.5"/>
<rect x="470.56" y="372.94" width="8.8" height="8.8" fill="#000"/>
<polygon points="489.4,388.50 494.7,384.10 500,388.50 494.7,392.90" fill="#000"/>
<polygon points="469.10,399.66 493.79,394.86 518.90,399.66 493.79,404.46" fill="#000"/>
</svg>
</body></html>
